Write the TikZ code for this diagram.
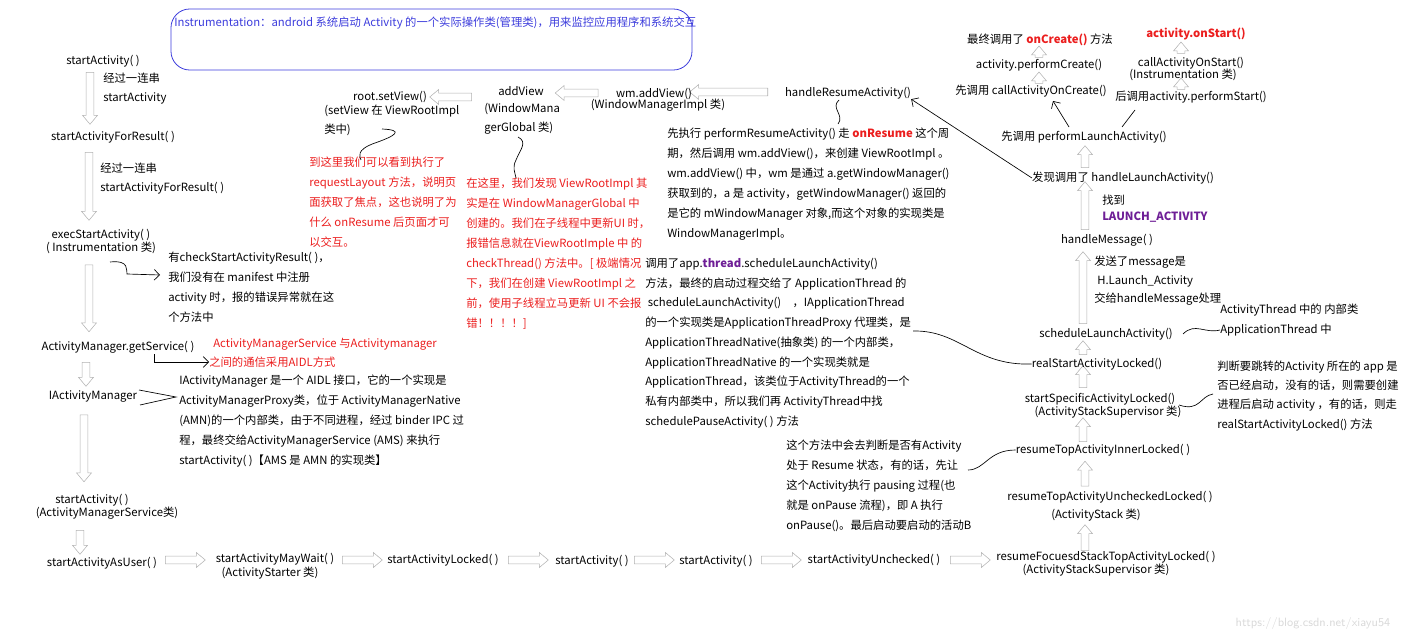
\documentclass[tikz,border=0pt]{standalone}
\usepackage{fontspec}
\setmainfont{Noto Sans CJK SC}
\usetikzlibrary{shapes.arrows,arrows.meta}
\definecolor{rd}{RGB}{235,30,30}
\definecolor{bl}{RGB}{60,60,220}
\definecolor{pu}{RGB}{110,30,150}
\newcommand\fs{\fontsize{8.5}{10}\selectfont}
\newcommand\fl{\fontsize{8.5}{15}\selectfont}
\tikzset{
 x=0.75pt,y=-0.75pt,
 every node/.style={font=\fs,inner sep=0pt},
 tw/.style={anchor=west},
 rt/.style={anchor=west,text=rd},
 harrow/.style={single arrow,draw=black!30,fill=white,inner sep=2.4pt,minimum width=15*0.75pt,single arrow head extend=2.5pt,single arrow tip angle=80},
 con/.style={black,line width=0.5pt},
}
\newcommand\harr[4]{\node[harrow,rotate=#3,minimum height=#4*0.75pt] at (#1,#2) {};}
\begin{document}
\begin{tikzpicture}
\useasboundingbox (0,0) rectangle (1423,641);
% top box
\draw[bl,line width=0.6pt,rounded corners=14] (171,9) rectangle (692,70);
\node[tw,text=bl] (ins) at (174,23) {Instrumentation：android 系统启动 Activity 的一个实际操作类(管理类)，用来监控应用程序和系统交互};
% left column
\node (a1) at (103,61) {startActivity( )};
\harr{90}{96}{-90}{52}
\node[tw] (a1t) at (103,78) {经过一连串};
\node[tw] (a1u) at (103,98) {startActivity};
\node (a2) at (113,137) {startActivityForResult( )};
\harr{89}{184}{-90}{68}
\node[tw] (a2t) at (100,168) {经过一连串};
\node[tw] (a2u) at (100,188) {startActivityForResult( )};
\node (a3) at (101,235) {execStartActivity( )};
\node (a3b) at (101,248) {( Instrumentation 类)};
\harr{89}{296}{-90}{67}
\node (a4) at (118,347) {ActivityManager.getService( )};
\harr{86}{372}{-90}{24}
\node (a5) at (93,397) {IActivityManager};
\harr{84}{446}{-90}{67}
\node (a6) at (92,500) {startActivity( )};
\node (a6b) at (107,513) {(ActivityManagerService类)};
\harr{80}{540}{-90}{24}
\node (a7) at (102,563) {startActivityAsUser( )};
% bottom row
\harr{183}{560}{0}{40}
\node (b1) at (275,559) {startActivityMayWait( )};
\node (b1b) at (270,573) {(ActivityStarter 类)};
\harr{360}{560}{0}{40}
\node (b2) at (443,560) {startActivityLocked( )};
\harr{526}{560}{0}{40}
\node (b3) at (592,561) {startActivity( )};
\harr{652}{560}{0}{40}
\node (b4) at (716,561) {startActivity( )};
\harr{779}{560}{0}{40}
\node (b5) at (874,560) {startActivityUnchecked( )};
\harr{968}{560}{0}{40}
% right column
\node (c1) at (1106,557) {resumeFocuesdStackTopActivityLocked( )};
\node (c1b) at (1096,570) {(ActivityStackSupervisor 类)};
\harr{1085}{540}{90}{26}
\node (c2) at (1110,497) {resumeTopActivityUncheckedLocked( )};
\node (c2b) at (1096,515) {(ActivityStack 类)};
\harr{1085}{476}{90}{25}
\node (c3) at (1103,450) {resumeTopActivityInnerLocked( )};
\harr{1083}{432}{90}{24}
\node (c4) at (1100,399) {startSpecificActivityLocked()};
\node (c4b) at (1108,412) {(ActivityStackSupervisor 类)};
\harr{1083}{379}{90}{22}
\node (c5) at (1097,364) {realStartActivityLocked()};
\harr{1083}{350}{90}{14}
\node (c6) at (1106,334) {scheduleLaunchActivity()};
\harr{1083}{290}{90}{72}
\node (c7) at (1107,240) {handleMessage( )};
\harr{1085}{208}{90}{48}
\node (c8) at (1123,178) {发现调用了 handleLaunchActivity()};
\harr{1085}{159}{90}{22}
\node (c9) at (1084,137) {先调用 performLaunchActivity()};
\node (d1) at (1031,91) {先调用 callActivityOnCreate()};
\harr{1039}{80}{90}{11}
\node (d2) at (1039,65) {activity.performCreate()};
\harr{1039}{54}{90}{8}
\node (d3) at (1040,40) {最终调用了 \textcolor{rd}{\textbf{onCreate()}} 方法};
\node (e1) at (1191,97) {后调用activity.performStart()};
\harr{1181}{86}{90}{8}
\node (e2) at (1191,63) {callActivityOnStart()};
\node (e2b) at (1183,75) {(Instrumentation 类)};
\harr{1181}{50}{90}{11}
\node[text=rd,font=\fs\bfseries] (e3) at (1196,34) {activity.onStart()};
\draw[con,-{Straight Barb[length=4pt]}] (1069,127) -- (1053,101);
\draw[con] (1122,127) -- (1135,110);
\node[tw] (f1) at (1102,200) {找到};
\node[tw,text=pu,font=\fs\bfseries\itshape] (f2) at (1102,217) {LAUNCH\_ACTIVITY};
\node[tw] (g1) at (1094,262) {发送了message是};
\node[tw] (g2) at (1097,281) {H.Launch\_Activity};
\node[tw] (g3) at (1094,299) {交给handleMessage处理};
\node[tw] (h1) at (1220,310) {ActivityThread 中的 内部类};
\node[tw] (h2) at (1220,330) {ApplicationThread 中};
\draw[con] (1183,334) .. controls (1195,322) and (1205,334) .. (h2.west);
\node[tw] (k1) at (1217,367) {判断要跳转的Activity 所在的 app 是};
\node[tw] (k2) at (1217,385) {否已经启动，没有的话，则需要创建};
\node[tw] (k3) at (1217,405) {进程后启动 activity ，有的话，则走};
\node[tw] (k4) at (1217,425) {realStartActivityLocked() 方法};
\draw[con] (1179,405) .. controls (1200,412) and (1200,396) .. (1213,394);
% middle top
\node (m1) at (848,93) {handleResumeActivity()};
\harr{731}{92}{180}{78}
\node (m2) at (654,94) {wm.addView()};
\node (m2b) at (658,105) {(WindowManagerImpl 类)};
\harr{579}{93}{180}{43}
\node (m3) at (521,91) {addView};
\node[tw] (m3b) at (484,109) {(WindowMana};
\node[tw] (m3c) at (484,128) {gerGlobal 类)};
\harr{453}{97}{180}{42}
\node (m4) at (390,97) {root.setView()};
\node[tw] (m4b) at (324,111) {(setView 在 ViewRootImpl};
\node[tw] (m4c) at (324,130) {类中)};
\draw[con,-{Straight Barb[length=4pt]}] (c8.west) -- (m1.south east);
% notes
\node[rt,align=left,font=\fl] (r1) at (309,202) {到这里我们可以看到执行了\\requestLayout 方法，说明页\\面获取了焦点，这也说明了为\\什么 onResume 后页面才可\\以交互。};
\draw[con] (382,129) .. controls (405,130) and (395,136) .. (375,143) .. controls (355,150) and (360,157) .. (361,160);
\node[rt,align=left,font=\fl] (r2) at (466,254) {在这里，我们发现 ViewRootImpl 其\\实是在 WindowManagerGlobal 中\\创建的。我们在子线程中更新UI 时，\\报错信息就在ViewRootImple 中 的\\checkThread() 方法中。[ 极端情况\\下，我们在创建 ViewRootImpl 之\\前，使用子线程立马更新 UI 不会报\\错！！！！]};
\draw[con] (518,137) .. controls (528,142) and (520,150) .. (516,160) .. controls (512,168) and (515,172) .. (516,178);
\node[tw,align=left,font=\fl] (n1) at (667,184) {先执行 performResumeActivity() 走 \textcolor{rd}{\textbf{onResume}} 这个周\\期，然后调用 wm.addView()，来创建 ViewRootImpl 。\\wm.addView() 中，wm 是通过 a.getWindowManager()\\获取到的，a 是 activity，getWindowManager() 返回的\\是它的 mWindowManager 对象,而这个对象的实现类是\\WindowManagerImpl。};
\draw[con] (839,100) .. controls (830,108) and (845,115) .. (838,124);
\node[tw,align=left,font=\fontsize{8.5}{14.8}\selectfont] (n2) at (645,343) {调用了app.\textcolor{pu}{\textbf{thread}}.scheduleLaunchActivity()\\方法，最终的启动过程交给了 ApplicationThread 的\\\ scheduleLaunchActivity()\quad，IApplicationThread\\的一个实现类是ApplicationThreadProxy 代理类，是\\ApplicationThreadNative(抽象类) 的一个内部类，\\ApplicationThreadNative 的一个实现类就是\\ApplicationThread，该类位于ActivityThread的一个\\私有内部类中，所以我们再 ActivityThread中找\\schedulePauseActivity( ) 方法};
\draw[con] (913,331) .. controls (960,330) and (975,366) .. (c5.west);
\node[tw,align=left,font=\fl] (n3) at (786,486) {这个方法中会去判断是否有Activity\\处于 Resume 状态，有的话，先让\\这个Activity执行 pausing 过程(也\\就是 onPause 流程)，即 A 执行\\onPause()。最后启动要启动的活动B};
\draw[con] (968,470) .. controls (985,470) and (988,450) .. (c3.west);
\node[tw,align=left,font=\fl] (n4) at (168,287) {有checkStartActivityResult( )，\\我们没有在 manifest 中注册\\activity 时，报的错误异常就在这\\个方法中};
\draw[con,-{Straight Barb[length=4pt]}] (110,262) .. controls (130,260) and (126,270) .. (127,274) -- (160,275);
\node[rt] (n5) at (213,344) {ActivityManagerService 与Activitymanager};
\node[rt] (n5b) at (209,362) {之间的通信采用AIDL方式};
\draw[con,-{Straight Barb[length=4pt]}] (154,354) -- (154,362) -- (n5b.west);
\node[tw,align=left,font=\fl] (n6) at (179,421) {IActivityManager 是一个 AIDL 接口，它的一个实现是\\ActivityManagerProxy类，位于 ActivityManagerNative\\(AMN)的一个内部类，由于不同进程，经过 binder IPC 过\\程，最终交给ActivityManagerService (AMS) 来执行\\startActivity( )【AMS 是 AMN 的实现类】};
\draw[con] (139,390) -- (176,397) -- (140,405);
\node[text=black!15,font=\fontsize{9}{10}\selectfont\sffamily] (wm) at (1313,623) {https://blog.csdn.net/xiayu54};
\end{tikzpicture}
\end{document}
